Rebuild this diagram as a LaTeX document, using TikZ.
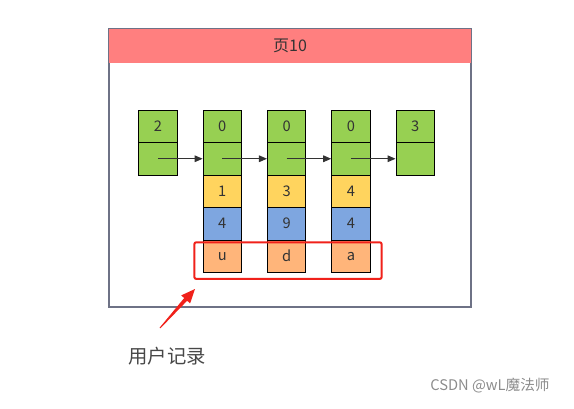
\documentclass[tikz,border=0pt]{standalone}
\usepackage{fontspec}
\setmainfont{Noto Sans CJK SC}
\usetikzlibrary{arrows.meta}
\definecolor{hdr}{HTML}{FF7F7F}
\definecolor{grn}{HTML}{97D052}
\definecolor{ylw}{HTML}{FFD45E}
\definecolor{blu}{HTML}{7EA6E0}
\definecolor{org}{HTML}{FFB57A}
\definecolor{pgline}{HTML}{6E7286}
\definecolor{txt}{HTML}{333333}
\definecolor{hl}{HTML}{F0211A}
\tikzset{
  cell/.style={draw=black, line width=0.6pt, minimum width=28.9pt, minimum height=24.4pt,
    inner sep=0pt, font=\fontsize{11}{13}\selectfont, text=txt},
  link/.style={draw=txt, line width=0.75pt, -{Triangle[length=6pt,width=5pt]}},
}
\begin{document}
\begin{tikzpicture}[x=0.75pt,y=-0.75pt]
\useasboundingbox (0,0) rectangle (574,408);
% page
\node[draw=pgline, line width=0.8pt, minimum width=271.5pt, minimum height=208.5pt, inner sep=0pt] (page) at (290,168) {};
\node[fill=hdr, minimum width=271.5pt, minimum height=25.5pt, inner sep=0pt,
  font=\fontsize{12}{14}\selectfont, text=txt] (title) at (290,46) {页10};
% columns
\foreach \i/\x/\t in {1/158/2, 2/222.3/0, 3/286.6/0, 4/350.9/0, 5/415.2/3} {
  \node[cell, fill=grn] (c\i a) at (\x,126.25) {\t};
  \node[cell, fill=grn] (c\i b) at (\x,158.75) {};
}
\foreach \i/\x/\p/\q/\r in {2/222.3/1/4/u, 3/286.6/3/9/d, 4/350.9/4/4/a} {
  \node[cell, fill=ylw] (c\i c) at (\x,191.25) {\p};
  \node[cell, fill=blu] (c\i d) at (\x,223.75) {\q};
  \node[cell, fill=org] (c\i e) at (\x,256.25) {\r};
}
\draw[link] (c1b.center) -- (c2b.west);
\draw[link] (c2b.center) -- (c3b.west);
\draw[link] (c3b.center) -- (c4b.west);
\draw[link] (c4b.center) -- (c5b.west);
% highlight
\node[draw=hl, line width=1.5pt, rounded corners=1.5pt, minimum width=140.5pt, minimum height=27.5pt, inner sep=0pt] (hlbox) at (288,260.6) {};
% red arrow
\fill[hl] (159.63,327.67) -- (184.16,298.06) -- (181.2,295.4) -- (195,289) -- (190.1,303.4) -- (187.14,300.74) -- (160.37,328.33) -- cycle;
\node[font=\fontsize{14.5}{17}\selectfont, text=txt!90!white] (lbl) at (167,356) {用户记录};
\node[font=\fontsize{11}{13}\selectfont, text=black!45] (wm) at (490,386) {CSDN @wL魔法师};
\end{tikzpicture}
\end{document}
